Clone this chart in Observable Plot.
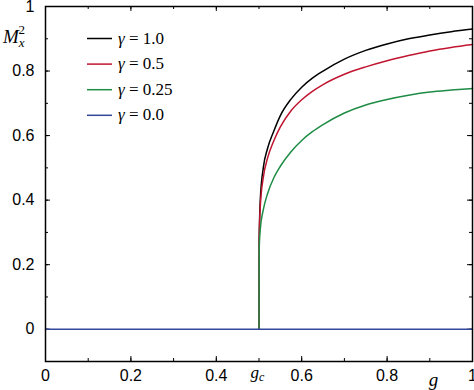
<!DOCTYPE html>
<html>
<head>
<meta charset="utf-8">
<script src="https://cdn.jsdelivr.net/npm/d3@7"></script>
<script src="https://cdn.jsdelivr.net/npm/@observablehq/plot@0.6"></script>
<style>
  html, body { margin: 0; padding: 0; background: white; }
</style>
</head>
<body>
<div id="chart"></div>
<script>
// ---- data ----
const gGrid = [0.5, 0.5005, 0.503, 0.51, 0.52, 0.535, 0.55, 0.575, 0.6, 0.625, 0.65, 0.7, 0.75, 0.8, 0.85, 0.9, 0.95, 1.0];
const mGamma10  = [0, 0.28, 0.40, 0.50, 0.56, 0.615, 0.662, 0.713, 0.750, 0.778, 0.80, 0.837, 0.864, 0.884, 0.90, 0.912, 0.922, 0.93];
const mGamma05  = [0, 0.28, 0.38, 0.47, 0.53, 0.585, 0.627, 0.677, 0.711, 0.737, 0.758, 0.79, 0.813, 0.832, 0.848, 0.862, 0.873, 0.882];
const mGamma025 = [0, 0.25, 0.31, 0.37, 0.42, 0.47, 0.505, 0.55, 0.585, 0.612, 0.634, 0.67, 0.695, 0.712, 0.725, 0.735, 0.741, 0.746];
const gZero = [0, 1];
const mGamma00 = [0, 0];
const seriesLabels = ["1.0", "0.5", "0.25", "0.0"];
const seriesColors = ["#000000", "#c01530", "#1f8c45", "#34479a"];
const xTickLabels = [0, 0.2, 0.4, 0.6, 0.8, 1];
const yTickLabels = [0, 0.2, 0.4, 0.6, 0.8, 1];
const minorTicks = [0.1, 0.2, 0.3, 0.4, 0.5, 0.6, 0.7, 0.8, 0.9];
const majorTicks = [0.2, 0.4, 0.6, 0.8];
const gc = 0.5;

const toRows = (gs, ms) => gs.map((g, i) => ({g, m: ms[i]}));
const curves = [
  toRows(gGrid, mGamma10),
  toRows(gGrid, mGamma05),
  toRows(gGrid, mGamma025),
  toRows(gZero, mGamma00)
];

const W = 474, H = 390, mL = 45, mR = 2, mT = 6, mB = 29;
const pw = W - mL - mR, ph = H - mT - mB;
const minorLen = 3, majorLen = 5;

const fmt = d => d === 0 ? "0" : d === 1 ? "1" : String(d);

const chart = Plot.plot({
  width: W, height: H,
  marginLeft: mL, marginRight: mR, marginTop: mT, marginBottom: mB,
  x: {domain: [0, 1]},
  y: {domain: [-0.1, 1]},
  style: {fontFamily: "Liberation Sans, Arial, sans-serif", fontSize: "16px", background: "white", overflow: "visible"},
  marks: [
    // inward ticks: bottom & top (x), left & right (y)
    Plot.tickX(minorTicks, {x: d => d, insetTop: ph - minorLen, stroke: "black", strokeWidth: 1}),
    Plot.tickX(majorTicks, {x: d => d, insetTop: ph - majorLen, stroke: "black", strokeWidth: 1}),
    Plot.tickX(minorTicks, {x: d => d, insetBottom: ph - minorLen, stroke: "black", strokeWidth: 1}),
    Plot.tickX(majorTicks, {x: d => d, insetBottom: ph - majorLen, stroke: "black", strokeWidth: 1}),
    Plot.tickY(minorTicks.concat([0]), {y: d => d, insetRight: pw - minorLen, stroke: "black", strokeWidth: 1}),
    Plot.tickY(majorTicks.concat([0]), {y: d => d, insetRight: pw - majorLen, stroke: "black", strokeWidth: 1}),
    Plot.tickY(minorTicks.concat([0]), {y: d => d, insetLeft: pw - minorLen, stroke: "black", strokeWidth: 1}),
    Plot.tickY(majorTicks.concat([0]), {y: d => d, insetLeft: pw - majorLen, stroke: "black", strokeWidth: 1}),
    // curves
    ...curves.map((rows, i) => Plot.line(rows, {x: "g", y: "m", stroke: seriesColors[i], strokeWidth: 1.5, curve: "monotone-x"})),
    Plot.frame({stroke: "black", strokeWidth: 1.5}),
    Plot.axisX(xTickLabels, {tickSize: 0, tickPadding: 8, tickFormat: fmt, label: null, fontSize: 16}),
    Plot.axisY(yTickLabels, {tickSize: 0, tickPadding: 11, tickFormat: fmt, label: null, fontSize: 16})
  ]
});

document.getElementById("chart").appendChild(chart);

// ---- math labels and legend (positioned through the scales) ----
const svg = d3.select(chart);
const sx = chart.scale("x"), sy = chart.scale("y");
const X = v => sx.apply(v), Y = v => sy.apply(v);
const serif = "'Liberation Serif', 'DejaVu Serif', serif";

// y-axis label M_x^2
const yl = svg.append("text").attr("x", 3).attr("y", 43).attr("text-anchor", "start")
  .style("font-family", serif).style("font-size", "19px").attr("fill", "black");
yl.append("tspan").style("font-style", "italic").text("M");
yl.append("tspan").style("font-style", "italic").style("font-size", "13px").attr("dy", 4).text("x");
yl.append("tspan").style("font-size", "13px").attr("dx", -6).attr("dy", -13).text("2");

// x-axis label g
svg.append("text").attr("x", X(0.91)).attr("y", H - 4)
  .style("font-family", serif).style("font-style", "italic").style("font-size", "19px")
  .attr("text-anchor", "middle").attr("fill", "black").text("g");

// g_c tick label
const gl = svg.append("text").attr("x", X(gc) - 1).attr("y", Y(-0.1) + 17)
  .style("font-family", serif).style("font-style", "italic").style("font-size", "17px")
  .attr("text-anchor", "middle").attr("fill", "black");
gl.append("tspan").text("g");
gl.append("tspan").style("font-size", "12px").attr("dy", 3).text("c");

// legend
const lg = svg.append("g").attr("text-anchor", "start");
seriesLabels.forEach((lab, i) => {
  const yy = 38.5 + 25.6 * i;
  lg.append("line").attr("x1", 87).attr("x2", 112).attr("y1", yy).attr("y2", yy)
    .attr("stroke", seriesColors[i]).attr("stroke-width", 1.5);
  const t = lg.append("text").attr("x", 118).attr("y", yy + 5).attr("text-anchor", "start")
    .style("font-family", serif).style("font-size", "17px").attr("fill", "black");
  t.append("tspan").style("font-style", "italic").text("γ");
  t.append("tspan").text(" = " + lab);
});
</script>
</body>
</html>
